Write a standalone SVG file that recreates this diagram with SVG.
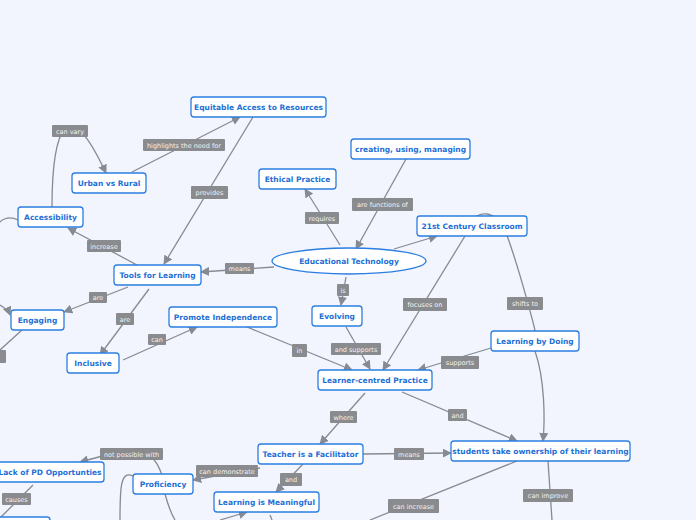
<svg xmlns="http://www.w3.org/2000/svg" width="696" height="520" viewBox="0 0 696 520">
<defs>
<marker id="a" viewBox="0 0 10 10" refX="9" refY="5" markerWidth="7" markerHeight="7" orient="auto"><path d="M0,0L10,5L0,10z" fill="#868a93"/></marker>
<style>
.n rect,.n ellipse{fill:#fff;stroke:#2a7de1;stroke-width:1.3}
.n text{font:bold 7.5px "DejaVu Sans",sans-serif;fill:#1d6fd6;text-anchor:middle}
.l rect{fill:#8a8b8e}
.l text{font:6.5px "DejaVu Sans",sans-serif;fill:#f2f2f2;text-anchor:middle}
#c path{fill:none;stroke:#868a93;stroke-width:1.3}
#c .m{marker-end:url(#a)}
</style>
</defs>
<rect width="696" height="520" fill="#f2f5fd"/>
<g id="c">
<path d="M132,172L240,117" class="m"/>
<path d="M52,207C52,170 55,140 65,128C80,120 95,150 106,173" class="m"/>
<path d="M253,117L164,264" class="m"/>
<path d="M340,245L305,189" class="m"/>
<path d="M406,159L356,249" class="m"/>
<path d="M394,249L437,236" class="m"/>
<path d="M274,267L201,272" class="m"/>
<path d="M137,265L68,228" class="m"/>
<path d="M128,287L64,312" class="m"/>
<path d="M149,289L100,355" class="m"/>
<path d="M123,360L197,327" class="m"/>
<path d="M18,220C8,215 0,220 -2,225"/>
<path d="M0,305C5,308 8,310 10,315" class="m"/>
<path d="M22,330L0,350"/>
<path d="M346,277L341,305" class="m"/>
<path d="M346,327L370,369" class="m"/>
<path d="M247,327L352,370" class="m"/>
<path d="M465,236L383,370" class="m"/>
<path d="M470,222C480,210 495,210 505,230C520,270 535,330 535,331"/>
<path d="M535,351C545,380 545,420 543,441" class="m"/>
<path d="M491,348L418,370" class="m"/>
<path d="M365,393L320,444" class="m"/>
<path d="M402,392L517,441" class="m"/>
<path d="M363,454L451,453" class="m"/>
<path d="M303,464L276,492" class="m"/>
<path d="M260,468L193,480" class="m"/>
<path d="M110,454L80,462" class="m"/>
<path d="M150,455C160,465 165,480 165,494C168,505 172,515 175,520"/>
<path d="M133,476C120,470 120,490 120,520"/>
<path d="M33,485L0,518"/>
<path d="M517,461L370,520"/>
<path d="M548,461L552,520"/>
<path d="M270,515L272,520"/>
<path d="M220,520L247,512" class="m"/>
</g>
<g class="l">
<g><rect x="52" y="125" width="36" height="12" rx="1"/><text x="70" y="134">can vary</text></g>
<g><rect x="143" y="139" width="82" height="12" rx="1"/><text x="184" y="148">highlights the need for</text></g>
<g><rect x="191" y="186" width="37" height="13" rx="1"/><text x="209.5" y="195">provides</text></g>
<g><rect x="305" y="212" width="34" height="12" rx="1"/><text x="322" y="221">requires</text></g>
<g><rect x="352" y="198" width="61" height="13" rx="1"/><text x="382.5" y="207">are functions of</text></g>
<g><rect x="87" y="240" width="34" height="12" rx="1"/><text x="104" y="249">increase</text></g>
<g><rect x="225" y="263" width="29" height="11" rx="1"/><text x="239.5" y="271">means</text></g>
<g><rect x="337" y="284" width="12" height="12" rx="1"/><text x="343" y="293">is</text></g>
<g><rect x="403" y="298" width="44" height="13" rx="1"/><text x="425" y="307">focuses on</text></g>
<g><rect x="507" y="297" width="36" height="13" rx="1"/><text x="525" y="306">shifts to</text></g>
<g><rect x="89" y="292" width="18" height="11" rx="1"/><text x="98" y="300">are</text></g>
<g><rect x="116" y="313" width="18" height="12" rx="1"/><text x="125" y="322">are</text></g>
<g><rect x="148" y="334" width="18" height="11" rx="1"/><text x="157" y="342">can</text></g>
<g><rect x="292" y="344" width="15" height="13" rx="1"/><text x="299.5" y="353">in</text></g>
<g><rect x="331" y="343" width="50" height="12" rx="1"/><text x="356" y="352">and supports</text></g>
<g><rect x="441" y="356" width="38" height="13" rx="1"/><text x="460" y="365">supports</text></g>
<g><rect x="-10" y="350" width="16" height="13" rx="1"/><text x="-2" y="359">n</text></g>
<g><rect x="330" y="411" width="27" height="12" rx="1"/><text x="343.5" y="420">where</text></g>
<g><rect x="448" y="409" width="19" height="12" rx="1"/><text x="457.5" y="418">and</text></g>
<g><rect x="394" y="448" width="30" height="12" rx="1"/><text x="409" y="457">means</text></g>
<g><rect x="196" y="465" width="62" height="12" rx="1"/><text x="227" y="474">can demonstrate</text></g>
<g><rect x="100" y="448" width="63" height="12" rx="1"/><text x="131.5" y="457">not possible with</text></g>
<g><rect x="280" y="473" width="22" height="13" rx="1"/><text x="291" y="482">and</text></g>
<g><rect x="2" y="493" width="29" height="12" rx="1"/><text x="16.5" y="502">causes</text></g>
<g><rect x="388" y="499" width="51" height="14" rx="1"/><text x="413.5" y="509">can increase</text></g>
<g><rect x="523" y="489" width="50" height="13" rx="1"/><text x="548" y="498">can improve</text></g>
</g>
<g id="n1" class="n"><rect x="191" y="97" width="135" height="20" rx="3"/><text x="258.5" y="110">Equitable Access to Resources</text></g>
<g id="n2" class="n"><rect x="351" y="139" width="119" height="20" rx="3"/><text x="410.5" y="152">creating, using, managing</text></g>
<g id="n3" class="n"><rect x="259" y="169" width="77" height="20" rx="3"/><text x="297.5" y="182">Ethical Practice</text></g>
<g id="n4" class="n"><rect x="417" y="216" width="110" height="20" rx="3"/><text x="472" y="229">21st Century Classroom</text></g>
<g id="n5" class="n"><ellipse cx="349" cy="261" rx="77" ry="13"/><text x="349" y="264">Educational Technology</text></g>
<g id="n6" class="n"><rect x="72" y="173" width="74" height="20" rx="3"/><text x="109" y="186">Urban vs Rural</text></g>
<g id="n7" class="n"><rect x="18" y="207" width="65" height="20" rx="3"/><text x="50.5" y="220">Accessibility</text></g>
<g id="n8" class="n"><rect x="114" y="265" width="87" height="20" rx="3"/><text x="157.5" y="278">Tools for Learning</text></g>
<g id="n9" class="n"><rect x="11" y="310" width="53" height="20" rx="3"/><text x="37.5" y="323">Engaging</text></g>
<g id="n10" class="n"><rect x="169" y="307" width="108" height="20" rx="3"/><text x="223" y="320">Promote Independence</text></g>
<g id="n11" class="n"><rect x="312" y="306" width="50" height="20" rx="3"/><text x="337" y="319">Evolving</text></g>
<g id="n12" class="n"><rect x="491" y="331" width="88" height="20" rx="3"/><text x="535" y="344">Learning by Doing</text></g>
<g id="n13" class="n"><rect x="67" y="353" width="52" height="20" rx="3"/><text x="93" y="366">Inclusive</text></g>
<g id="n14" class="n"><rect x="318" y="370" width="114" height="20" rx="3"/><text x="375" y="383">Learner-centred Practice</text></g>
<g id="n15" class="n"><rect x="258" y="444" width="105" height="20" rx="3"/><text x="310.5" y="457">Teacher is a Facilitator</text></g>
<g id="n16" class="n"><rect x="451" y="441" width="179" height="20" rx="3"/><text x="540.5" y="454">students take ownership of their learning</text></g>
<g id="n17" class="n"><rect x="-4" y="462" width="108" height="20" rx="3"/><text x="50" y="475">Lack of PD Opportunties</text></g>
<g id="n18" class="n"><rect x="133" y="474" width="60" height="20" rx="3"/><text x="163" y="487">Proficiency</text></g>
<g id="n19" class="n"><rect x="214" y="492" width="105" height="20" rx="3"/><text x="266.5" y="505">Learning is Meaningful</text></g>
<g id="n20" class="n"><rect x="-4" y="517" width="54" height="20" rx="3"/></g>
</svg>
